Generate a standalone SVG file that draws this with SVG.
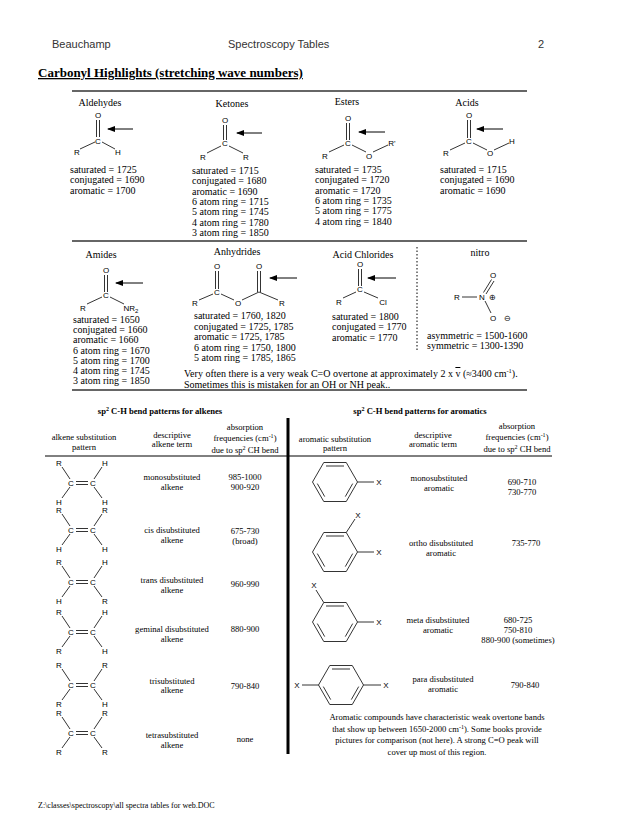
<svg xmlns="http://www.w3.org/2000/svg" xmlns:xlink="http://www.w3.org/1999/xlink" width="638" height="826" viewBox="0 0 638 826">
<style>
.t{font-family:"Liberation Serif",serif;font-size:10px;fill:#000}
.h{font-family:"Liberation Serif",serif;font-size:8.6px;fill:#000;text-anchor:middle}
.a{font-family:"Liberation Sans",sans-serif;font-size:8px;fill:#000;text-anchor:middle}
.hd{font-family:"Liberation Sans",sans-serif;font-size:11px;fill:#333}
.b{stroke:#000;stroke-width:0.8;fill:none}
.r{stroke:#333;stroke-width:1.6}
.ar{stroke:#000;stroke-width:1;marker-end:url(#ah)}
</style>
<defs>
<marker id="ah" markerWidth="8" markerHeight="6" refX="7" refY="3" orient="auto" markerUnits="userSpaceOnUse"><path d="M0,0 L8,3 L0,6 z" fill="#000"/></marker>
<g id="alk"><path class="b" d="M62,-16 L70,-4 M102,-16 L94,-4 M62,15 L70,4 M102,15 L94,4 M76,-1.5 H88 M76,1.5 H88"/><text class="a" x="71" y="3">C</text><text class="a" x="93" y="3">C</text></g>
<g id="bz"><path class="b" d="M22.5,0 L11.25,19.5 L-11.25,19.5 L-22.5,0 L-11.25,-19.5 L11.25,-19.5 Z M-9,-16 H9 M17.7,1.6 L10.3,14.6 M-10.3,14.6 L-17.7,1.6"/></g>
</defs>
<g id="header">
<text class="hd" x="52" y="48">Beauchamp</text>
<text class="hd" x="228" y="48">Spectroscopy Tables</text>
<text class="hd" x="538" y="48">2</text>
<text x="38" y="77" style="font-family:'Liberation Serif',serif;font-size:13px;font-weight:bold;text-decoration:underline">Carbonyl Highlights (stretching wave numbers)</text>
</g>
<g id="rules">
<line class="r" x1="72" y1="91" x2="527" y2="91"/>
<line class="r" x1="72" y1="241" x2="527" y2="241"/>
<line class="r" x1="72" y1="390" x2="527" y2="390"/>
<line x1="417" y1="247" x2="417" y2="352" stroke="#000" stroke-width="1" stroke-dasharray="1.5,2"/>
</g>
<g id="aldehydes">
<text class="t" x="100" y="106" text-anchor="middle">Aldehydes</text>
<text class="a" x="98" y="118">O</text>
<path class="b" d="M96.5,120 V137 M99.5,120 V137 M80,149 L95,142 M102,142 L115,149"/>
<text class="a" x="98" y="144">C</text><text class="a" x="77" y="155">R</text><text class="a" x="118" y="155">H</text>
<line class="ar" x1="133" y1="129" x2="108" y2="129"/>
<text class="t" x="70" y="173">saturated = 1725</text><text class="t" x="70" y="183.3">conjugated = 1690</text><text class="t" x="70" y="193.6">aromatic = 1700</text>
</g>
<g id="ketones">
<text class="t" x="232" y="107" text-anchor="middle">Ketones</text>
<text class="a" x="225" y="123">O</text>
<path class="b" d="M223.5,125 V140 M226.5,125 V140 M207,153 L221,146 M229,146 L243,153"/>
<text class="a" x="225" y="146">C</text><text class="a" x="203" y="160">R</text><text class="a" x="246" y="160">R</text>
<line class="ar" x1="262" y1="133" x2="237" y2="133"/>
<text class="t" x="192" y="174">saturated = 1715</text><text class="t" x="192" y="184.3">conjugated = 1680</text><text class="t" x="192" y="194.6">aromatic = 1690</text><text class="t" x="192" y="204.9">6 atom ring = 1715</text><text class="t" x="192" y="215.2">5 atom ring = 1745</text><text class="t" x="192" y="225.5">4 atom ring = 1780</text><text class="t" x="192" y="235.8">3 atom ring = 1850</text>
</g>
<g id="esters">
<text class="t" x="347" y="105" text-anchor="middle">Esters</text>
<text class="a" x="348" y="121">O</text>
<path class="b" d="M346.5,123 V140 M349.5,123 V140 M329,152 L344,145 M352,145 L366,152 M373,152 L388,145"/>
<text class="a" x="348" y="146">C</text><text class="a" x="325" y="159">R</text><text class="a" x="369" y="159">O</text><text class="a" x="392" y="146">R'</text>
<line class="ar" x1="385" y1="132" x2="359" y2="132"/>
<text class="t" x="315" y="173">saturated = 1735</text><text class="t" x="315" y="183.3">conjugated = 1720</text><text class="t" x="315" y="193.6">aromatic = 1720</text><text class="t" x="315" y="203.9">6 atom ring = 1735</text><text class="t" x="315" y="214.2">5 atom ring = 1775</text><text class="t" x="315" y="224.5">4 atom ring = 1840</text>
</g>
<g id="acids">
<text class="t" x="467" y="106" text-anchor="middle">Acids</text>
<text class="a" x="469" y="118">O</text>
<path class="b" d="M467.5,120 V138 M470.5,120 V138 M450,150 L465,143 M473,143 L487,150 M494,150 L509,143"/>
<text class="a" x="469" y="144">C</text><text class="a" x="446" y="156">R</text><text class="a" x="490" y="156">O</text><text class="a" x="512" y="144">H</text>
<line class="ar" x1="503" y1="129" x2="477" y2="129"/>
<text class="t" x="440" y="173">saturated = 1715</text><text class="t" x="440" y="183.3">conjugated = 1690</text><text class="t" x="440" y="193.6">aromatic = 1690</text>
</g>
<g id="amides">
<text class="t" x="101" y="258" text-anchor="middle">Amides</text>
<text class="a" x="106" y="273">O</text>
<path class="b" d="M104.5,275 V292 M107.5,275 V292 M87,304 L102,297 M110,297 L124,304"/>
<text class="a" x="106" y="298">C</text><text class="a" x="83" y="311">R</text><text class="a" x="131" y="311">NR<tspan font-size="6" dy="2">2</tspan></text>
<line class="ar" x1="143" y1="283" x2="116" y2="283"/>
<text class="t" x="73" y="323">saturated = 1650</text><text class="t" x="73" y="333.2">conjugated = 1660</text><text class="t" x="73" y="343.4">aromatic = 1660</text><text class="t" x="73" y="353.6">6 atom ring = 1670</text><text class="t" x="73" y="363.8">5 atom ring = 1700</text><text class="t" x="73" y="374">4 atom ring = 1745</text><text class="t" x="73" y="384.2">3 atom ring = 1850</text>
</g>
<g id="anhydrides">
<text class="t" x="237" y="255" text-anchor="middle">Anhydrides</text>
<text class="a" x="217" y="269">O</text><text class="a" x="259" y="269">O</text>
<path class="b" d="M215.5,271 V289 M218.5,271 V289 M257.5,271 V292 M260.5,271 V292 M199,300 L213,294 M221,294 L234,300 M242,300 L259,292 L278,300"/>
<text class="a" x="217" y="295">C</text><text class="a" x="195" y="306">R</text><text class="a" x="238" y="306">O</text><text class="a" x="282" y="306">R</text>
<line class="ar" x1="297" y1="278" x2="270" y2="278"/>
<text class="t" x="194" y="319">saturated = 1760, 1820</text><text class="t" x="194" y="329.5">conjugated = 1725, 1785</text><text class="t" x="194" y="340">aromatic = 1725, 1785</text><text class="t" x="194" y="350.5">6 atom ring = 1750, 1800</text><text class="t" x="194" y="361">5 atom ring = 1785, 1865</text>
</g>
<g id="acidchlorides">
<text class="t" x="363" y="258" text-anchor="middle">Acid Chlorides</text>
<text class="a" x="360" y="267">O</text>
<path class="b" d="M358.5,269 V286 M361.5,269 V286 M343,298 L356,292 M364,292 L378,298"/>
<text class="a" x="360" y="292">C</text><text class="a" x="339" y="305">R</text><text class="a" x="383" y="305">Cl</text>
<line class="ar" x1="396" y1="278" x2="368" y2="278"/>
<text class="t" x="332" y="320">saturated = 1800</text><text class="t" x="332" y="330.3">conjugated = 1770</text><text class="t" x="332" y="340.6">aromatic = 1770</text>
</g>
<g id="nitro">
<text class="t" x="480" y="256" text-anchor="middle">nitro</text>
<text class="a" x="457" y="300">R</text>
<path class="b" d="M462,297 H477 M483.5,292.5 L491.5,279.5 M486,294 L494,281 M485,301 L491,313"/>
<text class="a" x="482" y="300">N</text><text class="a" x="492" y="300">⊕</text>
<text class="a" x="493" y="278">O</text><text class="a" x="493" y="321">O</text><text class="a" x="507" y="321">⊖</text>
<text class="t" x="427" y="339">asymmetric = 1500-1600</text><text class="t" x="427" y="349">symmetric = 1300-1390</text>
</g>
<g id="overtone">
<text class="t" x="184" y="377">Very often there is a very weak C=O overtone at approximately 2 x <tspan style="text-decoration:overline">v</tspan> (≈3400 cm<tspan font-size="6.5" dy="-4">-1</tspan><tspan dy="4">).</tspan></text>
<text class="t" x="184" y="388">Sometimes this is mistaken for an OH or NH peak..</text>
</g>
<g id="alkenes">
<text x="160" y="414" text-anchor="middle" style="font-family:'Liberation Serif',serif;font-size:8.6px;font-weight:bold">sp<tspan font-size="6" dy="-3">2</tspan><tspan dy="3"> C-H bend patterns for alkenes</tspan></text>
<text class="h" x="84" y="440">alkene substitution</text><text class="h" x="84" y="450">pattern</text>
<text class="h" x="172" y="438">descriptive</text><text class="h" x="172" y="447">alkene term</text>
<text class="h" x="245" y="430">absorption</text><text class="h" x="245" y="441">frequencies (cm<tspan font-size="6" dy="-3">-1</tspan><tspan dy="3">)</tspan></text><text class="h" x="245" y="453">due to sp<tspan font-size="6" dy="-3">2</tspan><tspan dy="3"> CH bend</tspan></text>
<use xlink:href="#alk" y="483"/><use xlink:href="#alk" y="530"/><use xlink:href="#alk" y="582"/><use xlink:href="#alk" y="632"/><use xlink:href="#alk" y="685"/><use xlink:href="#alk" y="733"/>
<g class="a">
<text x="59" y="466">R</text><text x="105" y="466">H</text><text x="59" y="505">H</text><text x="105" y="505">H</text>
<text x="59" y="513">R</text><text x="105" y="513">R</text><text x="59" y="552">H</text><text x="105" y="552">H</text>
<text x="59" y="565">R</text><text x="105" y="565">H</text><text x="59" y="604">H</text><text x="105" y="604">R</text>
<text x="59" y="615">R</text><text x="105" y="615">H</text><text x="59" y="654">R</text><text x="105" y="654">H</text>
<text x="59" y="668">R</text><text x="105" y="668">R</text><text x="59" y="707">R</text><text x="105" y="707">H</text>
<text x="59" y="716">R</text><text x="105" y="716">R</text><text x="59" y="755">R</text><text x="105" y="755">R</text>
</g>
<text class="h" x="172" y="480">monosubstituted</text><text class="h" x="172" y="490">alkene</text>
<text class="h" x="245" y="480">985-1000</text><text class="h" x="245" y="490">900-920</text>
<text class="h" x="172" y="533">cis disubstituted</text><text class="h" x="172" y="543">alkene</text>
<text class="h" x="245" y="534">675-730</text><text class="h" x="245" y="544">(broad)</text>
<text class="h" x="172" y="583">trans disubstituted</text><text class="h" x="172" y="593">alkene</text>
<text class="h" x="245" y="587">960-990</text>
<text class="h" x="172" y="632">geminal disubstituted</text><text class="h" x="172" y="642">alkene</text>
<text class="h" x="245" y="632">880-900</text>
<text class="h" x="172" y="684">trisubstituted</text><text class="h" x="172" y="693">alkene</text>
<text class="h" x="245" y="689">790-840</text>
<text class="h" x="172" y="738">tetrasubstituted</text><text class="h" x="172" y="748">alkene</text>
<text class="h" x="245" y="742">none</text>
</g>
<g id="tablerules">
<line x1="45" y1="456" x2="552" y2="456" stroke="#000" stroke-width="1"/>
<line x1="288" y1="418" x2="288" y2="754" stroke="#000" stroke-width="3"/>
</g>
<g id="aromatics">
<text x="420" y="414" text-anchor="middle" style="font-family:'Liberation Serif',serif;font-size:8.6px;font-weight:bold">sp<tspan font-size="6" dy="-3">2</tspan><tspan dy="3"> C-H bend patterns for aromatics</tspan></text>
<text class="h" x="335" y="442">aromatic substitution</text><text class="h" x="335" y="451">pattern</text>
<text class="h" x="433" y="438">descriptive</text><text class="h" x="433" y="447">aromatic term</text>
<text class="h" x="517" y="429">absorption</text><text class="h" x="517" y="440">frequencies (cm<tspan font-size="6" dy="-3">-1</tspan><tspan dy="3">)</tspan></text><text class="h" x="517" y="452">due to sp<tspan font-size="6" dy="-3">2</tspan><tspan dy="3"> CH bend</tspan></text>
<use xlink:href="#bz" x="335" y="482"/>
<path class="b" d="M357.5,482 H374"/><text class="a" x="379" y="485">X</text>
<use xlink:href="#bz" x="335" y="552"/>
<path class="b" d="M357.5,552 H374 M346.25,532.5 L355,519"/><text class="a" x="379" y="555">X</text><text class="a" x="358" y="518">X</text>
<use xlink:href="#bz" x="335" y="622"/>
<path class="b" d="M357.5,622 H374 M323.75,602.5 L316,590"/><text class="a" x="379" y="625">X</text><text class="a" x="314" y="588">X</text>
<use xlink:href="#bz" x="341" y="685"/>
<path class="b" d="M363.5,685 H381 M318.5,685 H302"/><text class="a" x="386" y="688">X</text><text class="a" x="297" y="688">X</text>
<text class="h" x="439" y="481">monosubstituted</text><text class="h" x="439" y="491">aromatic</text>
<text class="h" x="522" y="485">690-710</text><text class="h" x="522" y="495">730-770</text>
<text class="h" x="441" y="546">ortho disubstituted</text><text class="h" x="441" y="556">aromatic</text>
<text class="h" x="526" y="546">735-770</text>
<text class="h" x="438" y="623">meta disubstituted</text><text class="h" x="438" y="633">aromatic</text>
<text class="h" x="518" y="623">680-725</text><text class="h" x="518" y="633">750-810</text><text class="h" x="518" y="643">880-900 (sometimes)</text>
<text class="h" x="443" y="682">para disubstituted</text><text class="h" x="443" y="692">aromatic</text>
<text class="h" x="525" y="688">790-840</text>
<text class="h" x="437" y="720">Aromatic compounds have characteristic weak overtone bands</text>
<text class="h" x="437" y="732">that show up between 1650-2000 cm<tspan font-size="6" dy="-3">-1</tspan><tspan dy="3">).  Some books provide</tspan></text>
<text class="h" x="437" y="743">pictures for comparison (not here).  A strong C=O peak will</text>
<text class="h" x="437" y="755">cover up most of this region.</text>
</g>
<g id="footer">
<text x="38" y="808" style="font-family:'Liberation Serif',serif;font-size:8px">Z:\classes\spectroscopy\all spectra tables for web.DOC</text>
</g>
</svg>
